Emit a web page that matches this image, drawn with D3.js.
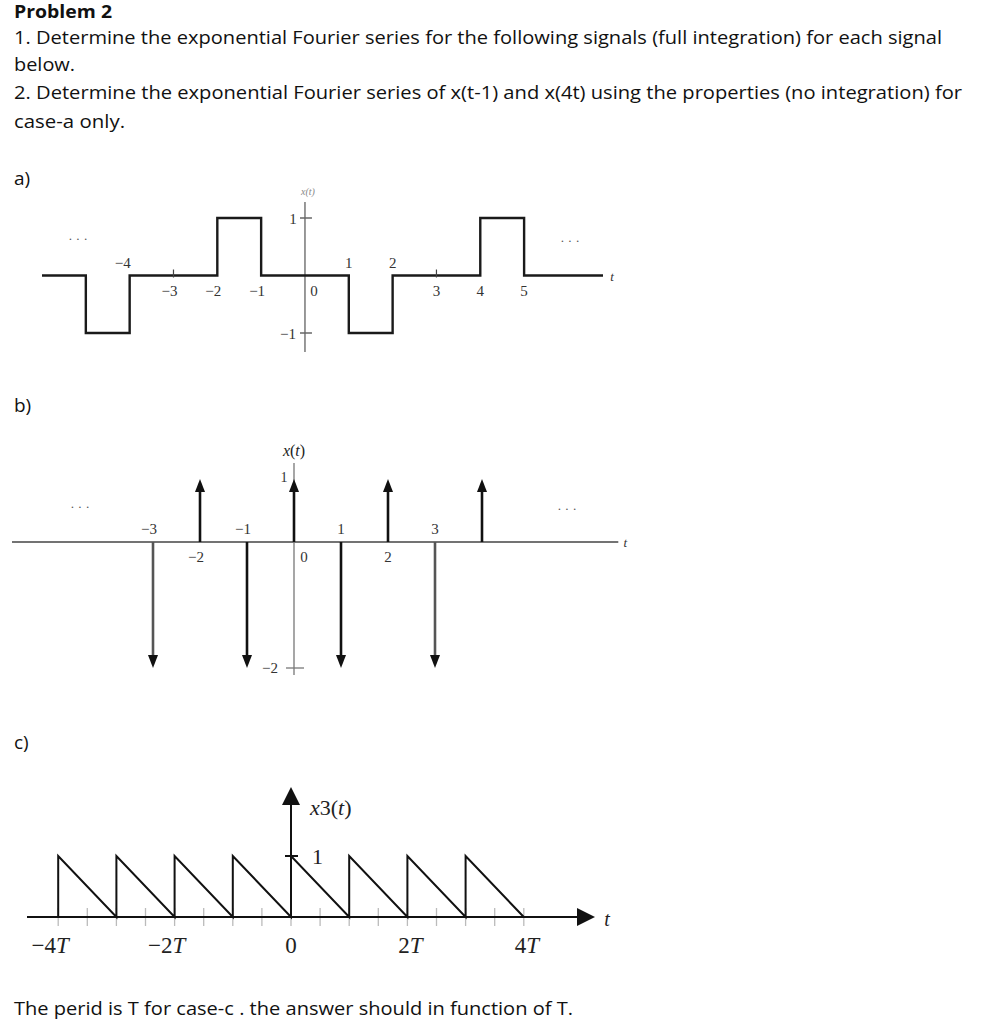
<!DOCTYPE html>
<html><head><meta charset="utf-8">
<script src="https://cdn.jsdelivr.net/npm/d3@7"></script>
<style>body{margin:0;background:#fff;}</style>
</head><body>
<script>
// ---------- data ----------
// text block
const headerLines = [
  {text:"Problem 2", bold:true, y:18, w:98},
  {text:"1. Determine the exponential Fourier series for the following signals (full integration) for each signal", y:44, w:928},
  {text:"below.", y:71, w:61},
  {text:"2. Determine the exponential Fourier series of x(t-1) and x(4t) using the properties (no integration) for", y:99, w:948},
  {text:"case-a only.", y:128, w:111}
];
const footerText = "The perid is T for case-c . the answer should in function of T.";
const panelLabels = ["a)", "b)", "c)"];

// panel a: rectangular pulses of width 1
const aStarts = [-5, -2, 1, 4];
const aAmps   = [-1, 1, -1, 1];
const aLabelsAbove = [-4, 1, 2];
const aLabelsBelow = [-3, -2, -1, 0, 3, 4, 5];

// panel b: impulses
const bTimes = [-3, -2, -1, 0, 1, 2, 3, 4];
const bAmps  = [-2, 1, -2, 1, -2, 1, -2, 1];
const bLabelsAbove = [-3, -1, 1, 3];
const bLabelsBelow = [-2, 0, 2];

// panel c: sawtooth, period T, teeth starting at k*T
const cStarts = [-4, -3, -2, -1, 0, 1, 2, 3];
const cTicks = d3.range(-4, 4.01, 0.5);
const cTickLabels = ["−4T", "−2T", "0", "2T", "4T"];
const cTickLabelVals = [-4, -2, 0, 2, 4];

// ---------- drawing ----------
const W = 1006, H = 1024;
const svg = d3.select("body").append("svg").attr("width", W).attr("height", H);
const sans = "'Open Sans', 'Noto Sans', sans-serif";
const serif = "'Liberation Serif', 'DejaVu Serif', serif";

headerLines.forEach(l => {
  svg.append("text").attr("x", 14).attr("y", l.y)
    .attr("font-family", sans).attr("font-size", l.bold ? 18 : 19)
    .attr("font-weight", l.bold ? "bold" : "normal")
    .attr("textLength", l.w).attr("lengthAdjust", "spacingAndGlyphs")
    .attr("fill", "#111").text(l.text);
});
svg.append("text").attr("x", 14).attr("y", 1015)
  .attr("font-family", sans).attr("font-size", 19)
  .attr("textLength", 559).attr("lengthAdjust", "spacingAndGlyphs")
  .attr("fill", "#111").text(footerText);

[[185], [412], [749]].forEach((p, i) => {
  svg.append("text").attr("x", 14).attr("y", p[0])
    .attr("font-family", sans).attr("font-size", 19).attr("fill", "#111")
    .text(panelLabels[i]);
});

// ===== Panel a =====
{
  const x = d3.scaleLinear().domain([-6, 6.8]).range([42, 603]);
  const y = d3.scaleLinear().domain([-1, 1]).range([333, 218]);
  const g = svg.append("g");
  // y-axis
  g.append("line").attr("x1", x(0)).attr("x2", x(0)).attr("y1", 202).attr("y2", 352)
    .attr("stroke", "#777").attr("stroke-width", 1.5);
  [1, -1].forEach(v => {
    g.append("line").attr("x1", x(0) - 5).attr("x2", x(0) + 7).attr("y1", y(v)).attr("y2", y(v))
      .attr("stroke", "#666").attr("stroke-width", 1.5);
  });
  g.append("text").attr("x", x(0) - 12).attr("y", y(1) + 6).attr("text-anchor", "middle")
    .attr("font-family", serif).attr("font-size", 15).attr("fill", "#333").text("1");
  g.append("text").attr("x", x(0) - 17).attr("y", y(-1) + 6).attr("text-anchor", "middle")
    .attr("font-family", serif).attr("font-size", 15).attr("fill", "#333").text("−1");
  g.append("text").attr("x", x(0) + 3).attr("y", 195).attr("text-anchor", "middle")
    .attr("font-family", serif).attr("font-style", "italic").attr("font-size", 10).attr("fill", "#888").text("x(t)");
  // signal path (zero baseline with pulses)
  const pts = [[-6, 0]];
  aStarts.forEach((s, i) => {
    pts.push([s, 0], [s, aAmps[i]], [s + 1, aAmps[i]], [s + 1, 0]);
  });
  pts.push([6.8, 0]);
  g.append("path").attr("d", d3.line().x(d => x(d[0])).y(d => y(d[1]))(pts))
    .attr("fill", "none").attr("stroke", "#1a1a1a").attr("stroke-width", 2.4);
  // small ticks at -3 and 3
  [-3, 3].forEach(v => {
    g.append("line").attr("x1", x(v)).attr("x2", x(v)).attr("y1", y(0) - 6).attr("y2", y(0) + 2)
      .attr("stroke", "#444").attr("stroke-width", 1.2);
  });
  aLabelsAbove.forEach(v => {
    g.append("text").attr("x", x(v) + (v < 0 ? -7 : 0)).attr("y", y(0) - 8).attr("text-anchor", "middle")
      .attr("font-family", serif).attr("font-size", 15).attr("fill", "#333").text(v < 0 ? "−" + (-v) : v);
  });
  aLabelsBelow.forEach(v => {
    g.append("text").attr("x", x(v) + (v < 0 ? -4 : (v === 0 ? 9 : 0))).attr("y", y(0) + 20).attr("text-anchor", "middle")
      .attr("font-family", serif).attr("font-size", 15).attr("fill", "#333").text(v < 0 ? "−" + (-v) : v);
  });
  g.append("text").attr("x", x(6.8) + 9).attr("y", y(0) + 5).attr("text-anchor", "middle")
    .attr("font-family", serif).attr("font-style", "italic").attr("font-size", 13).attr("fill", "#333").text("t");
  g.append("text").attr("x", 78).attr("y", 243).attr("text-anchor", "middle")
    .attr("font-family", serif).attr("font-size", 13).attr("fill", "#555").text("· · ·");
  g.append("text").attr("x", 570).attr("y", 245).attr("text-anchor", "middle")
    .attr("font-family", serif).attr("font-size", 13).attr("fill", "#555").text("· · ·");
}

// ===== Panel b =====
{
  const x = d3.scaleLinear().domain([-6, 7]).range([12, 623]);
  const y = d3.scaleLinear().domain([-2, 1]).range([668, 479]);
  const g = svg.append("g");
  g.append("line").attr("x1", x(-6)).attr("x2", x(6.9)).attr("y1", y(0)).attr("y2", y(0))
    .attr("stroke", "#444").attr("stroke-width", 1.5);
  g.append("line").attr("x1", x(0)).attr("x2", x(0)).attr("y1", 463).attr("y2", 675)
    .attr("stroke", "#777").attr("stroke-width", 1.3);
  g.append("line").attr("x1", x(0) - 8).attr("x2", x(0) + 10).attr("y1", y(-2)).attr("y2", y(-2))
    .attr("stroke", "#777").attr("stroke-width", 1.3);
  g.append("text").attr("x", x(0) - 24).attr("y", y(-2) + 5).attr("text-anchor", "middle")
    .attr("font-family", serif).attr("font-size", 15).attr("fill", "#333").text("−2");
  g.append("text").attr("x", x(0) - 10).attr("y", 482).attr("text-anchor", "middle")
    .attr("font-family", serif).attr("font-size", 14).attr("fill", "#333").text("1");
  const xt = g.append("text").attr("x", x(0)).attr("y", 456).attr("text-anchor", "middle")
    .attr("font-family", serif).attr("font-size", 16).attr("fill", "#222");
  xt.append("tspan").attr("font-style", "italic").text("x");
  xt.append("tspan").text("(");
  xt.append("tspan").attr("font-style", "italic").text("t");
  xt.append("tspan").text(")");
  bTimes.forEach((t, i) => {
    const a = bAmps[i];
    const tip = y(a);
    const dir = a > 0 ? 1 : -1; // 1 = up
    const headLen = 13, headW = 5;
    g.append("line").attr("x1", x(t)).attr("x2", x(t)).attr("y1", y(0)).attr("y2", tip + dir * headLen * 0.8)
      .attr("stroke", a > 0 ? "#111" : (t === -3 || t === 3 ? "#555" : "#111")).attr("stroke-width", 2.6);
    g.append("path")
      .attr("d", `M${x(t)},${tip} L${x(t) - headW},${tip + dir * headLen} L${x(t) + headW},${tip + dir * headLen} Z`)
      .attr("fill", "#111");
  });
  bLabelsAbove.forEach(v => {
    g.append("text").attr("x", x(v) + (v < 0 ? -4 : 0)).attr("y", y(0) - 8).attr("text-anchor", "middle")
      .attr("font-family", serif).attr("font-size", 15).attr("fill", "#333").text(v < 0 ? "−" + (-v) : v);
  });
  bLabelsBelow.forEach(v => {
    g.append("text").attr("x", x(v) + (v < 0 ? -4 : (v === 0 ? 10 : 0))).attr("y", y(0) + 20).attr("text-anchor", "middle")
      .attr("font-family", serif).attr("font-size", 15).attr("fill", "#333").text(v < 0 ? "−" + (-v) : v);
  });
  g.append("text").attr("x", x(6.9) + 7).attr("y", y(0) + 5).attr("text-anchor", "middle")
    .attr("font-family", serif).attr("font-style", "italic").attr("font-size", 13).attr("fill", "#333").text("t");
  g.append("text").attr("x", 80).attr("y", 511).attr("text-anchor", "middle")
    .attr("font-family", serif).attr("font-size", 13).attr("fill", "#555").text("· · ·");
  g.append("text").attr("x", 567).attr("y", 513).attr("text-anchor", "middle")
    .attr("font-family", serif).attr("font-size", 13).attr("fill", "#555").text("· · ·");
}

// ===== Panel c =====
{
  const x = d3.scaleLinear().domain([0, 1]).range([291, 349.2]);
  const y = d3.scaleLinear().domain([0, 1]).range([917, 856]);
  const g = svg.append("g");
  // ticks
  cTicks.forEach(v => {
    g.append("line").attr("x1", x(v)).attr("x2", x(v)).attr("y1", 908).attr("y2", 926)
      .attr("stroke", "#bbb").attr("stroke-width", 1.3);
  });
  // axis
  g.append("line").attr("x1", 27).attr("x2", 580).attr("y1", y(0)).attr("y2", y(0))
    .attr("stroke", "#111").attr("stroke-width", 2);
  g.append("path").attr("d", `M577,908 L595,917 L577,926 Z`).attr("fill", "#111");
  // y axis
  g.append("line").attr("x1", x(0)).attr("x2", x(0)).attr("y1", y(0)).attr("y2", 800)
    .attr("stroke", "#111").attr("stroke-width", 2);
  g.append("path").attr("d", `M${x(0)},787 L${x(0) - 9},805 L${x(0) + 9},805 Z`).attr("fill", "#111");
  g.append("line").attr("x1", x(0) - 6).attr("x2", x(0) + 7).attr("y1", y(1)).attr("y2", y(1))
    .attr("stroke", "#111").attr("stroke-width", 2);
  g.append("text").attr("x", 312).attr("y", y(1) + 8).attr("font-family", serif)
    .attr("font-size", 22).attr("fill", "#222").text("1");
  const lt = g.append("text").attr("x", 310).attr("y", 815).attr("font-family", serif)
    .attr("font-size", 22).attr("fill", "#222");
  lt.append("tspan").attr("font-style", "italic").text("x");
  lt.append("tspan").text("3(");
  lt.append("tspan").attr("font-style", "italic").text("t");
  lt.append("tspan").text(")");
  // sawtooth
  const pts = [];
  cStarts.forEach(s => { pts.push([s, 0], [s, 1], [s + 1, 0]); });
  g.append("path").attr("d", d3.line().x(d => x(d[0])).y(d => y(d[1]))(pts))
    .attr("fill", "none").attr("stroke", "#111").attr("stroke-width", 2).attr("stroke-linejoin", "miter");
  // tick labels
  cTickLabelVals.forEach((v, i) => {
    const txt = cTickLabels[i];
    const t = g.append("text").attr("x", x(v) + (v < 0 ? -8 : (v > 0 ? 3 : 0))).attr("y", 953)
      .attr("text-anchor", "middle").attr("font-family", serif).attr("font-size", 23).attr("fill", "#222");
    if (txt.endsWith("T")) {
      t.append("tspan").text(txt.slice(0, -1));
      t.append("tspan").attr("font-style", "italic").text("T");
    } else t.text(txt);
  });
  g.append("text").attr("x", 607).attr("y", 926).attr("text-anchor", "middle")
    .attr("font-family", serif).attr("font-style", "italic").attr("font-size", 20).attr("fill", "#222").text("t");
}
</script>
</body></html>
